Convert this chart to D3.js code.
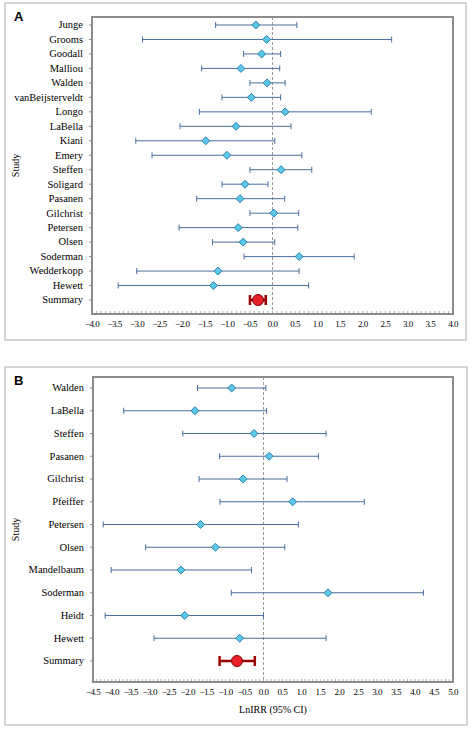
<!DOCTYPE html>
<html><head><meta charset="utf-8">
<script src="https://cdn.jsdelivr.net/npm/d3@7"></script>
<style>body{margin:0;background:#fff}text{font-family:"Liberation Serif",serif}</style>
</head><body><div id="container"></div>
<script>
// Panel A
let studiesA = ["Junge","Grooms","Goodall","Malliou","Walden","vanBeijsterveldt","Longo","LaBella","Kiani","Emery","Steffen","Soligard","Pasanen","Gilchrist","Petersen","Olsen","Soderman","Wedderkopp","Hewett","Summary"];
let estA = [-0.37,-0.13,-0.24,-0.70,-0.12,-0.47,0.28,-0.81,-1.48,-1.01,0.19,-0.61,-0.72,0.03,-0.76,-0.65,0.59,-1.21,-1.31,-0.32];
let lowA = [-1.26,-2.88,-0.64,-1.57,-0.50,-1.12,-1.62,-2.05,-3.03,-2.67,-0.50,-1.12,-1.68,-0.50,-2.07,-1.33,-0.63,-3.01,-3.42,-0.50];
let highA = [0.54,2.64,0.18,0.16,0.28,0.18,2.19,0.41,0.05,0.65,0.87,-0.10,0.27,0.58,0.56,0.05,1.81,0.59,0.80,-0.15];
let ticksA = d3.range(-4, 4.01, 0.5);

// Panel B
let studiesB = ["Walden","LaBella","Steffen","Pasanen","Gilchrist","Pfeiffer","Petersen","Olsen","Mandelbaum","Soderman","Heidt","Hewett","Summary"];
let estB = [-0.84,-1.81,-0.25,0.15,-0.54,0.77,-1.66,-1.27,-2.18,1.70,-2.08,-0.63,-0.70];
let lowB = [-1.74,-3.69,-2.13,-1.16,-1.70,-1.15,-4.23,-3.11,-4.02,-0.85,-4.18,-2.89,-1.16];
let highB = [0.06,0.08,1.65,1.45,0.62,2.66,0.92,0.56,-0.32,4.22,0.0,1.65,-0.23];
let ticksB = d3.range(-4.5, 5.01, 0.5);

let svg = d3.select('#container').append('svg').attr('width', 474).attr('height', 732);

function drawPanel(o) {
    let g = svg.append('g');
    g.append('rect').attr('x', o.box[0]).attr('y', o.box[1]).attr('width', o.box[2]).attr('height', o.box[3])
        .style('fill', 'none').style('stroke', '#c8c8c8').style('stroke-width', 1.5);
    g.append('text').attr('x', o.box[0] + 9).attr('y', o.box[1] + 18).text(o.label)
        .style('font-family', 'Liberation Sans, Arial').style('font-weight', 'bold').style('font-size', '13px');

    let x = d3.scaleLinear().domain(o.domain).range([o.left, o.right]);
    let y = d3.scalePoint().domain(o.studies).range([o.firstY, o.lastY]);

    g.append('rect').attr('x', o.left).attr('y', o.top).attr('width', o.right - o.left).attr('height', o.bottom - o.top)
        .style('fill', 'none').style('stroke', '#8c8c8c').style('stroke-width', 2);

    // minor ticks
    g.append('g').selectAll('line').data(d3.range(o.domain[0], o.domain[1] + 0.001, 0.1)).enter().append('line')
        .attr('x1', d => x(d)).attr('x2', d => x(d)).attr('y1', o.bottom).attr('y2', o.bottom - 3)
        .style('stroke', '#8c8c8c').style('stroke-width', 0.7);
    g.append('g').selectAll('line').data(o.studies).enter().append('line')
        .attr('x1', o.left).attr('x2', o.left - 3).attr('y1', d => y(d)).attr('y2', d => y(d))
        .style('stroke', '#8c8c8c');

    g.append('g').selectAll('text').data(o.ticks).enter().append('text')
        .attr('x', d => x(d)).attr('y', o.bottom + 13).attr('text-anchor', 'middle')
        .style('font-size', '9px').style('letter-spacing', '-0.5px')
        .text(d => d3.format('.1f')(d));

    g.append('line').attr('x1', x(0)).attr('x2', x(0)).attr('y1', o.top).attr('y2', o.bottom)
        .style('stroke', '#999').style('stroke-dasharray', '3,2');

    g.append('g').selectAll('text').data(o.studies).enter().append('text')
        .attr('x', o.left - 9).attr('y', d => y(d)).attr('dy', '.32em').attr('text-anchor', 'end')
        .style('font-size', '10.5px').text(d => d);

    g.append('text').attr('transform', 'translate(' + (o.box[0] + 14) + ',' + ((o.top + o.bottom) / 2) + ') rotate(-90)')
        .attr('text-anchor', 'middle').style('font-size', '10px').text('Study');
    if (o.titleY) {
        g.append('text').attr('x', (o.left + o.right) / 2).attr('y', o.titleY).attr('text-anchor', 'middle')
            .style('font-size', '10px').text('LnIRR (95% CI)');
    }

    let n = o.studies.length;
    o.studies.forEach(function(s, i) {
        let sum = i === n - 1;
        let col = sum ? '#9b0000' : '#4a6f9a';
        let sw = sum ? 2.5 : 1;
        let cy = y(s), cap = sum ? 5 : 3;
        g.append('line').attr('x1', x(o.low[i])).attr('x2', x(o.high[i])).attr('y1', cy).attr('y2', cy)
            .style('stroke', col).style('stroke-width', sw);
        [o.low[i], o.high[i]].forEach(function(v) {
            g.append('line').attr('x1', x(v)).attr('x2', x(v)).attr('y1', cy - cap).attr('y2', cy + cap)
                .style('stroke', col).style('stroke-width', sw);
        });
        if (sum) {
            g.append('circle').attr('cx', x(o.est[i])).attr('cy', cy).attr('r', 5.5)
                .style('fill', '#e8202a').style('stroke', '#8b0000').style('stroke-width', 1);
        } else {
            g.append('path').attr('d', d3.symbol(d3.symbolDiamond2, 40)())
                .attr('transform', 'translate(' + x(o.est[i]) + ',' + cy + ')')
                .style('fill', '#5bc8e8').style('stroke', '#2a7fb0').style('stroke-width', 1);
        }
    });
}

drawPanel({label: 'A', box: [5, 3, 461, 337], studies: studiesA, est: estA, low: lowA, high: highA,
    ticks: ticksA, domain: [-4, 4], left: 92, right: 453, top: 17, bottom: 314, firstY: 25, lastY: 300, titleY: null});
drawPanel({label: 'B', box: [5, 367, 462, 358], studies: studiesB, est: estB, low: lowB, high: highB,
    ticks: ticksB, domain: [-4.5, 5], left: 93, right: 453, top: 377, bottom: 682, firstY: 388, lastY: 661, titleY: 713});
</script></body></html>
